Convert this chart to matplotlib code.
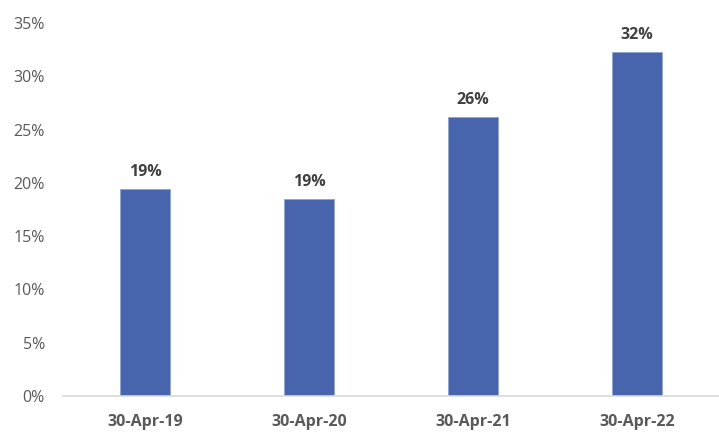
import matplotlib
matplotlib.use("Agg")
import matplotlib.pyplot as plt
from matplotlib.ticker import PercentFormatter

dates = ["30-Apr-19", "30-Apr-20", "30-Apr-21", "30-Apr-22"]
values = [19.45, 18.5, 26.2, 32.3]
labels = ["19%", "19%", "26%", "32%"]
y_ticks = [0, 5, 10, 15, 20, 25, 30, 35]

plt.rcParams["font.family"] = ["Open Sans", "DejaVu Sans"]

fig = plt.figure(figsize=(7.19, 4.41), dpi=100)
ax = fig.add_axes([0.0876, 0.102, 0.9124, 0.846])

x = range(len(dates))
bars = ax.bar(x, values, width=0.31, color="#4864ac", edgecolor="#8fa3cf", linewidth=0.6)

for bar, lab in zip(bars, labels):
    ax.annotate(lab, (bar.get_x() + bar.get_width() / 2, bar.get_height()),
                xytext=(0, 6), textcoords="offset points", ha="center", va="bottom",
                fontsize=11.5, fontweight="bold", color="#404040")

ax.set_xlim(-0.5, len(dates) - 0.5)
ax.set_ylim(0, 35)
ax.set_yticks(y_ticks)
ax.yaxis.set_major_formatter(PercentFormatter(decimals=0))
ax.set_xticks(list(x))
ax.set_xticklabels(dates, fontweight="bold")

for s in ["top", "right", "left"]:
    ax.spines[s].set_visible(False)
ax.spines["bottom"].set_color("#d9d9d9")
ax.spines["bottom"].set_linewidth(1.2)
ax.tick_params(axis="both", length=0, labelsize=11.5, colors="#595959")
ax.tick_params(axis="y", pad=13)
ax.tick_params(axis="x", pad=13)

fig.savefig("out.png", dpi=100)
